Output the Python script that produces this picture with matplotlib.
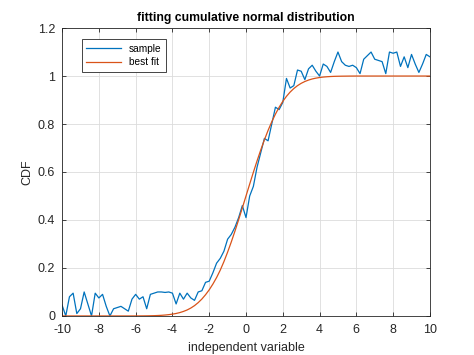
import matplotlib

matplotlib.use("Agg")
import matplotlib.pyplot as plt
import numpy as np

# x grid: -10 .. 10, step 0.2 (101 points)
x = np.linspace(-10, 10, 101)

# noisy sample
sample = [
    0.045, 0.0, 0.08, 0.095, 0.01, 0.03, 0.1, 0.05, 0.0, 0.095,
    0.075, 0.09, 0.04, 0.0, 0.03, 0.035, 0.04, 0.03, 0.02, 0.07,
    0.09, 0.07, 0.08, 0.03, 0.09, 0.095, 0.1, 0.1, 0.098, 0.1,
    0.095, 0.05, 0.095, 0.07, 0.095, 0.075, 0.065, 0.1, 0.105, 0.14,
    0.145, 0.18, 0.22, 0.24, 0.27, 0.32, 0.34, 0.37, 0.41, 0.46,
    0.41, 0.50, 0.54, 0.62, 0.68, 0.74, 0.73, 0.80, 0.87, 0.86,
    0.89, 0.99, 0.95, 0.96, 1.025, 1.02, 0.985, 1.03, 1.045, 1.02,
    1.0, 1.05, 1.04, 1.015, 1.06, 1.10, 1.06, 1.045, 1.04, 1.045,
    1.035, 1.01, 1.07, 1.085, 1.10, 1.07, 1.065, 1.06, 1.01, 1.10,
    1.095, 1.10, 1.04, 1.08, 1.035, 1.09, 1.05, 1.015, 1.05, 1.09,
    1.08,
]

# best-fit curve values at the same x
best_fit = [
    0, 0, 0, 0, 0, 0, 0, 0, 0, 0,
    0, 0, 0, 0, 0, 0, 0, 0, 0, 0,
    0.0001, 0.0002, 0.0003, 0.0005, 0.0008, 0.0012, 0.0018, 0.0026, 0.0038, 0.0054,
    0.0075, 0.0103, 0.0140, 0.0189, 0.0250, 0.0330, 0.0430, 0.0555, 0.0705, 0.0885,
    0.1090, 0.1330, 0.1600, 0.1910, 0.2266, 0.2660, 0.3085, 0.3538, 0.4013, 0.4503,
    0.5, 0.5497, 0.5987, 0.6462, 0.6915, 0.7340, 0.7734, 0.8092, 0.8413, 0.8697,
    0.8944, 0.9154, 0.9332, 0.9479, 0.9599, 0.9696, 0.9772, 0.9832, 0.9878, 0.9912,
    0.9938, 0.9957, 0.9970, 0.9980, 0.9987, 0.9991, 0.9994, 0.9996, 0.9998, 0.9999,
    1, 1, 1, 1, 1, 1, 1, 1, 1, 1,
    1, 1, 1, 1, 1, 1, 1, 1, 1, 1,
    1,
]

x_ticks = [-10, -8, -6, -4, -2, 0, 2, 4, 6, 8, 10]
y_ticks = [0, 0.2, 0.4, 0.6, 0.8, 1.0, 1.2]
y_labels = ["0", "0.2", "0.4", "0.6", "0.8", "1", "1.2"]

plt.rcParams["font.family"] = ["Liberation Sans", "DejaVu Sans"]
plt.rcParams["axes.unicode_minus"] = False

fig = plt.figure(figsize=(4.74, 3.55), dpi=100)
ax = fig.add_axes([0.131, 0.110, 0.776, 0.811])

ax.plot(x, sample, color="#0072BD", lw=0.9, label="sample")
ax.plot(x, best_fit, color="#D95319", lw=0.9, label="best fit")

ax.set_xlim(-10, 10)
ax.set_ylim(0, 1.2)
ax.set_xticks(x_ticks)
ax.set_yticks(y_ticks)
ax.set_yticklabels(y_labels)
ax.grid(True, color="#dcdcdc", lw=0.6)
ax.set_axisbelow(True)
ax.tick_params(direction="in", length=3, width=0.6, labelsize=9,
               colors="#262626", top=True, right=True)
ax.tick_params(axis="x", pad=6)
ax.tick_params(axis="y", pad=5)
for s in ax.spines.values():
    s.set_color("#262626")
    s.set_linewidth(0.6)

ax.set_xlabel("independent variable", fontsize=9, color="#262626", labelpad=4)
ax.set_ylabel("CDF", fontsize=9, color="#262626", labelpad=3)
ax.set_title("fitting cumulative normal distribution", fontsize=8.8,
             fontweight="bold", pad=5)

leg = ax.legend(loc="upper left", bbox_to_anchor=(0.04, 0.978), fontsize=7.3,
                fancybox=False, framealpha=1, edgecolor="#262626",
                handlelength=3.4, borderpad=0.45, labelspacing=0.3)
leg.get_frame().set_linewidth(0.6)

fig.savefig("out.png", dpi=100)
plt.close(fig)
